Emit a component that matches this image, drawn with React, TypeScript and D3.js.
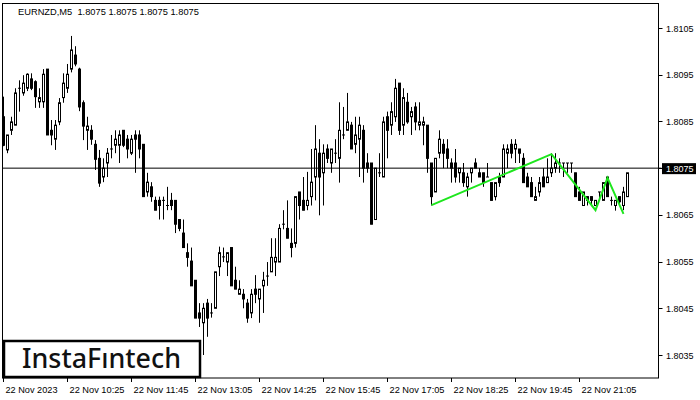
import React from "react";
import { scaleLinear, line } from "d3";

// EURNZD M5 candles, 22 Nov 2023 09:05 .. 22:05
const opens = [
  1.8086, 1.80789, 1.80831, 1.80842, 1.80921, 1.80911, 1.80921, 1.80941, 1.80935, 1.80892,
  1.80892, 1.80962, 1.80831, 1.80812, 1.80849, 1.80901, 1.80921, 1.80962, 1.80992, 1.80962,
  1.8089, 1.80831, 1.80831, 1.80801, 1.80771, 1.80731, 1.80761, 1.80791, 1.80799, 1.80799,
  1.80831, 1.80812, 1.80782, 1.80821, 1.80821, 1.80801, 1.80699, 1.8071, 1.80681, 1.80681,
  1.80681, 1.8067, 1.80681, 1.80681, 1.8064, 1.80611, 1.80569, 1.80551, 1.8051, 1.8044,
  1.80419, 1.80461, 1.8044, 1.8045, 1.80539, 1.80559, 1.80549, 1.8058, 1.8051, 1.8048,
  1.8048, 1.80461, 1.8044, 1.80491, 1.8047, 1.80498, 1.80519, 1.80528, 1.80549, 1.80549,
  1.8063, 1.80621, 1.80589, 1.80589, 1.80699, 1.80681, 1.8067, 1.80689, 1.80731, 1.80782,
  1.8074, 1.80791, 1.80761, 1.80782, 1.80771, 1.80821, 1.80831, 1.80842, 1.80801, 1.80812,
  1.80831, 1.80761, 1.80761, 1.8064, 1.8074, 1.80731, 1.8086, 1.80842, 1.8086, 1.80932,
  1.80842, 1.80891, 1.8086, 1.80881, 1.80842, 1.80842, 1.80842, 1.80761, 1.80699, 1.80782,
  1.80801, 1.80791, 1.80761, 1.80761, 1.8074, 1.8074, 1.8071, 1.8074, 1.80761, 1.8074,
  1.8074, 1.80731, 1.80719, 1.80689, 1.80731, 1.80731, 1.80782, 1.80801, 1.80791, 1.80791,
  1.80771, 1.80731, 1.80719, 1.80681, 1.80699, 1.80731, 1.80719, 1.8074, 1.8075, 1.80761,
  1.80761, 1.80761, 1.80761, 1.8074, 1.80699, 1.8067, 1.80689, 1.80689, 1.8067, 1.80699,
  1.80681, 1.80731, 1.80681, 1.8067, 1.80689, 1.8067, 1.80689,
];
const highs = [
  1.80903, 1.80821, 1.8086, 1.80921, 1.80938, 1.80949, 1.80953, 1.80953, 1.80938, 1.80921,
  1.80962, 1.80962, 1.80853, 1.80853, 1.809, 1.80953, 1.80973, 1.81033, 1.81011, 1.80965,
  1.80895, 1.8086, 1.80842, 1.8081, 1.80789, 1.80771, 1.80793, 1.80821, 1.80831, 1.80831,
  1.80831, 1.80821, 1.80821, 1.80831, 1.80831, 1.80801, 1.8074, 1.8072, 1.80689, 1.80689,
  1.80689, 1.8071, 1.80697, 1.80681, 1.8064, 1.8064, 1.80589, 1.8058, 1.8051, 1.80461,
  1.80461, 1.8047, 1.80461, 1.80528, 1.80582, 1.8058, 1.80569, 1.8058, 1.80539, 1.8051,
  1.80491, 1.8047, 1.80491, 1.80521, 1.80491, 1.80528, 1.80549, 1.806, 1.806, 1.8063,
  1.8066, 1.80681, 1.80621, 1.80689, 1.80699, 1.80731, 1.80742, 1.80791, 1.80842, 1.80812,
  1.80801, 1.80801, 1.80791, 1.80812, 1.80891, 1.80881, 1.80911, 1.80849, 1.8086, 1.8086,
  1.80842, 1.80782, 1.80761, 1.8075, 1.80782, 1.8086, 1.80871, 1.80891, 1.80941, 1.80932,
  1.80921, 1.80911, 1.80881, 1.80891, 1.80891, 1.8086, 1.80842, 1.80761, 1.80771, 1.80831,
  1.80812, 1.80812, 1.80771, 1.80791, 1.8075, 1.80761, 1.8074, 1.8075, 1.80771, 1.8075,
  1.8074, 1.80761, 1.80719, 1.80719, 1.8074, 1.80801, 1.80801, 1.80812, 1.80812, 1.80791,
  1.80782, 1.8074, 1.80731, 1.8071, 1.80731, 1.8075, 1.80771, 1.80782, 1.80782, 1.80771,
  1.80761, 1.80761, 1.80761, 1.8074, 1.8071, 1.80699, 1.80689, 1.80689, 1.80681, 1.80699,
  1.80719, 1.80731, 1.80689, 1.80681, 1.80689, 1.8071, 1.8074,
];
const lows = [
  1.80797, 1.80782, 1.80821, 1.80842, 1.80871, 1.80905, 1.80915, 1.80917, 1.80879, 1.80879,
  1.80879, 1.80821, 1.80799, 1.80789, 1.80842, 1.8089, 1.80911, 1.80955, 1.80968, 1.80872,
  1.8081, 1.80789, 1.808, 1.80746, 1.8071, 1.8072, 1.80731, 1.80771, 1.80782, 1.80761,
  1.80795, 1.80771, 1.80778, 1.8074, 1.80771, 1.80689, 1.80689, 1.80678, 1.8066, 1.8064,
  1.8064, 1.8066, 1.8066, 1.80611, 1.80615, 1.8058, 1.80539, 1.80498, 1.80429, 1.8041,
  1.8035, 1.80389, 1.8043, 1.8045, 1.80519, 1.80549, 1.80519, 1.80498, 1.80491, 1.8048,
  1.8045, 1.80419, 1.80429, 1.80461, 1.80419, 1.8044, 1.80498, 1.80528, 1.80519, 1.80549,
  1.80619, 1.806, 1.80559, 1.8058, 1.8064, 1.8066, 1.8066, 1.8067, 1.80681, 1.80649,
  1.8067, 1.80761, 1.8074, 1.80761, 1.80719, 1.80812, 1.80831, 1.80791, 1.80782, 1.80731,
  1.80719, 1.8074, 1.8063, 1.8064, 1.80731, 1.80731, 1.80771, 1.80821, 1.80849, 1.80821,
  1.80821, 1.80845, 1.80821, 1.80831, 1.80831, 1.80799, 1.8074, 1.8067, 1.80699, 1.80771,
  1.8075, 1.8075, 1.80719, 1.80719, 1.80719, 1.8071, 1.80689, 1.80719, 1.8075, 1.80731,
  1.8071, 1.80731, 1.80681, 1.80681, 1.8071, 1.80731, 1.8075, 1.80771, 1.80761, 1.80761,
  1.80719, 1.8071, 1.80689, 1.80681, 1.80689, 1.8071, 1.80719, 1.80731, 1.8074, 1.8074,
  1.80731, 1.8074, 1.8074, 1.80689, 1.80681, 1.8067, 1.8067, 1.8067, 1.8067, 1.80681,
  1.80681, 1.80689, 1.8067, 1.80659, 1.8067, 1.8066, 1.80689,
];
const closes = [
  1.80799, 1.80821, 1.80849, 1.80911, 1.80921, 1.80932, 1.80951, 1.80921, 1.80903, 1.80901,
  1.80951, 1.80821, 1.80821, 1.80842, 1.8089, 1.80932, 1.80951, 1.81003, 1.80973, 1.80881,
  1.8084, 1.8084, 1.80812, 1.80769, 1.80718, 1.8075, 1.80782, 1.80791, 1.80812, 1.80821,
  1.80799, 1.80791, 1.80812, 1.80812, 1.80791, 1.80689, 1.8072, 1.80689, 1.8066, 1.8067,
  1.8068, 1.8067, 1.8067, 1.8063, 1.80621, 1.8058, 1.80559, 1.80498, 1.80429, 1.80429,
  1.8045, 1.80429, 1.8044, 1.80528, 1.80569, 1.8056, 1.80569, 1.80498, 1.80491, 1.80491,
  1.8047, 1.80429, 1.8048, 1.8048, 1.80491, 1.8051, 1.80519, 1.80559, 1.80559, 1.80621,
  1.8063, 1.806, 1.8058, 1.80689, 1.8067, 1.8066, 1.80681, 1.8072, 1.80791, 1.80731,
  1.80782, 1.80771, 1.80791, 1.80782, 1.80831, 1.80821, 1.80849, 1.80791, 1.80821, 1.80842,
  1.8075, 1.8075, 1.8063, 1.8075, 1.8074, 1.80849, 1.80831, 1.80871, 1.80921, 1.80831,
  1.80901, 1.80849, 1.80871, 1.80849, 1.80849, 1.80849, 1.80771, 1.80689, 1.80771, 1.80812,
  1.80782, 1.80771, 1.8075, 1.80731, 1.8075, 1.80719, 1.80731, 1.8075, 1.8075, 1.80731,
  1.80719, 1.80731, 1.80681, 1.80719, 1.80719, 1.80791, 1.80791, 1.80782, 1.80801, 1.80782,
  1.80719, 1.8071, 1.80689, 1.80689, 1.80719, 1.8071, 1.80731, 1.8075, 1.80761, 1.80761,
  1.80761, 1.80761, 1.80761, 1.80689, 1.80681, 1.80699, 1.80681, 1.80681, 1.80681, 1.80699,
  1.80719, 1.80689, 1.80681, 1.80681, 1.80678, 1.80699, 1.8074,
];

const priceTicks = [1.8105, 1.8095, 1.8085, 1.8075, 1.8065, 1.8055, 1.8045, 1.8035];
const currentPrice = 1.8075;
const symbolLabel = "EURNZD,M5";
const lastBarOHLC = [1.8075, 1.8075, 1.8075, 1.8075];

const timeTickBars = [0, 16, 32, 48, 64, 80, 96, 112, 128, 144];
const timeTickLabels = [
  "22 Nov 2023", "22 Nov 10:25", "22 Nov 11:45", "22 Nov 13:05", "22 Nov 14:25",
  "22 Nov 15:45", "22 Nov 17:05", "22 Nov 18:25", "22 Nov 19:45", "22 Nov 21:05",
];

// pattern line: [bar index, price]
const patternBars = [107, 137, 148, 151, 155];
const patternPrices = [1.80671, 1.8078, 1.8066, 1.80729, 1.80652];

const W = 700;
const H = 400;
const left = 2.5;
const right = 658.5;
const top = 3.5;
const bottom = 378;
const font = "'Liberation Sans', Arial, sans-serif";

export default function App() {
  const x = scaleLinear().domain([0, opens.length - 1]).range([3.5, 3.5 + 4 * (opens.length - 1)]);
  const y = scaleLinear().domain([1.8035, 1.8105]).range([355, 28]);

  const pattern = line<number>()
    .x((_, i) => x(patternBars[i]))
    .y((d) => y(d));

  return (
    <svg
      width={W}
      height={H}
      style={{ position: "absolute", left: 0, top: 0, background: "#fff" }}
      fontFamily={font}
    >
      <rect x={0} y={0} width={W} height={H} fill="#fff" />

      {/* candles */}
      <g>
        {opens.map((o, i) => {
          const c = closes[i];
          const cx = x(i);
          const yTop = y(Math.max(o, c));
          const yBot = y(Math.min(o, c));
          const flat = Math.abs(yBot - yTop) < 1;
          return (
            <g key={i}>
              <line x1={cx} x2={cx} y1={y(highs[i])} y2={y(lows[i])} stroke="#000" strokeWidth={1} />
              {flat ? (
                <line x1={cx - 1.5} x2={cx + 1.5} y1={yTop} y2={yTop} stroke="#000" strokeWidth={1} />
              ) : (
                <rect
                  x={cx - 1}
                  y={yTop}
                  width={2}
                  height={yBot - yTop}
                  fill={c > o ? "#fff" : "#000"}
                  stroke="#000"
                  strokeWidth={1}
                />
              )}
            </g>
          );
        })}
      </g>

      {/* current price line */}
      <line x1={left} x2={right + 3} y1={y(currentPrice)} y2={y(currentPrice)} stroke="#000" strokeWidth={1} />

      {/* pattern */}
      <path d={pattern(patternPrices) || ""} fill="none" stroke="#1de61d" strokeWidth={2} />

      {/* frame */}
      <rect x={left} y={top} width={right - left} height={bottom - top} fill="none" stroke="#000" strokeWidth={1} />

      {/* price axis */}
      {priceTicks.map((p) => (
        <g key={p}>
          <line x1={right} x2={right + 4} y1={Math.round(y(p)) + 0.5} y2={Math.round(y(p)) + 0.5} stroke="#000" />
          {p !== currentPrice && (
            <text x={666} y={y(p) + 3.5} fontSize={9} fill="#000">
              {p.toFixed(4)}
            </text>
          )}
        </g>
      ))}
      <rect x={662} y={y(currentPrice) - 5} width={34} height={11} fill="#000" />
      <text x={666} y={y(currentPrice) + 3.5} fontSize={9} fill="#fff">
        {currentPrice.toFixed(4)}
      </text>

      {/* time axis */}
      {timeTickBars.map((b, i) => (
        <g key={b}>
          <line x1={x(b)} x2={x(b)} y1={bottom} y2={bottom + 4} stroke="#000" />
          <text
            x={x(b) + 2}
            y={393}
            fontSize={9}
            fill="#000"
            textLength={i === 0 ? 52 : 55}
            lengthAdjust="spacingAndGlyphs"
          >
            {timeTickLabels[i]}
          </text>
        </g>
      ))}

      {/* title */}
      <text x={18} y={15} fontSize={9.3} fill="#000" style={{ whiteSpace: "pre" }}>
        {`${symbolLabel}  ${lastBarOHLC.map((v) => v.toFixed(4)).join(" ")}`}
      </text>

      {/* logo */}
      <rect x={4} y={341} width={196} height={36} fill="#fff" stroke="#000" strokeWidth={2.5} />
      <text
        x={22}
        y={368}
        fontSize={27}
        fontFamily="'Noto Sans', 'Open Sans', sans-serif"
        fontWeight={500}
        fill="#111"
        textLength={159}
        lengthAdjust="spacingAndGlyphs"
      >
        InstaFıntech
      </text>
    </svg>
  );
}
